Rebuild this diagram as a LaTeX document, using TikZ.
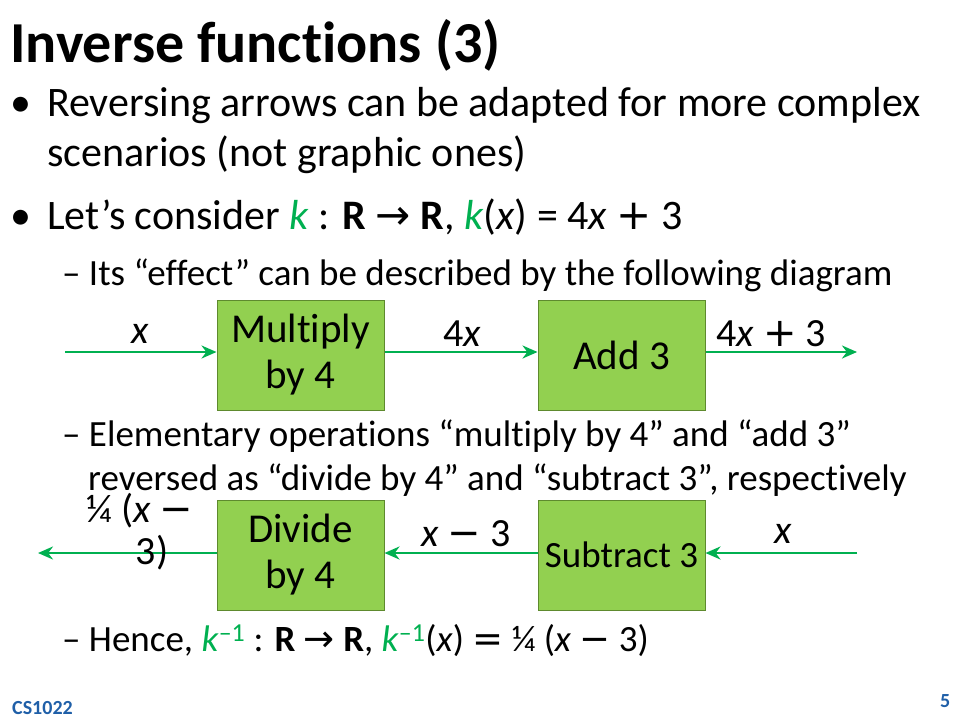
\documentclass[tikz,border=0pt]{standalone}
\usepackage{fontspec}
\setmainfont{Carlito}[Ligatures=NoCommon]
\newfontfamily\symf{DejaVu Sans}
\usetikzlibrary{arrows.meta}
\definecolor{kg}{HTML}{00B050}
\definecolor{boxg}{HTML}{92D050}
\definecolor{boxb}{HTML}{5E8A2E}
\definecolor{csb}{HTML}{1F5FA8}
\newcommand{\mysym}[1]{{\symf\fontseries{m}\selectfont #1}}
\begin{document}
\begin{tikzpicture}[x=1pt,y=-1pt,
  opbox/.style={draw=boxb,fill=boxg,line width=1pt,minimum width=167pt,minimum height=110pt,inner sep=0pt,align=center,font=\fontsize{41}{46}\selectfont},
  garrow/.style={draw=kg,line width=2.6pt,-{Stealth[length=15pt,width=13pt]}},
  tl/.style={anchor=base west,inner sep=0pt},
  lbl/.style={font=\fontsize{40}{44}\selectfont,inner sep=0pt}]
\useasboundingbox (0,0) rectangle (960,720);
\node[tl,font=\fontsize{58}{62}\bfseries] (title) at (10,62) {Inverse functions (3)};
\node[tl,font=\fontsize{42}{48}\selectfont] (b1) at (10,116) {•};
\node[tl,font=\fontsize{42}{48}\selectfont] (t1) at (47,116) {Reversing arrows can be adapted for more complex};
\node[tl,font=\fontsize{42}{48}\selectfont] (t1b) at (47,166) {scenarios (not graphic ones)};
\node[tl,font=\fontsize{42}{48}\selectfont] (b2) at (10,229) {•};
\node[tl,font=\fontsize{42}{48}\selectfont] (t2) at (47,229) {Let’s consider \textcolor{kg}{\textit{k}} : \textbf{R} \mysym{→} \textbf{R}, \textcolor{kg}{\textit{k}}(\textit{x}) = 4\textit{x} \mysym{+} 3};
\node[tl,font=\fontsize{37}{42}\selectfont] (s1) at (62,285) {– Its “effect” can be described by the following diagram};
\node[tl,font=\fontsize{37}{42}\selectfont] (s2) at (62,446) {– Elementary operations “multiply by 4” and “add 3”};
\node[tl,font=\fontsize{37}{42}\selectfont] (s2b) at (88,490) {reversed as “divide by 4” and “subtract 3”, respectively};
\node[tl,font=\fontsize{37}{42}\selectfont] (s3) at (62,651) {– Hence, \textcolor{kg}{\textit{k}\textsuperscript{–1}} : \textbf{R} \mysym{→} \textbf{R}, \textcolor{kg}{\textit{k}\textsuperscript{–1}}(\textit{x}) \mysym{=} ¼ (\textit{x} \mysym{−} 3)};
\node[tl,font=\fontsize{20}{24}\bfseries,text=csb] (cs) at (12,714) {CS1022};
\node[tl,font=\fontsize{20}{24}\bfseries,text=csb] (pg) at (940,707) {5};

\node[opbox] (m4) at (300.5,355) {Multiply\\by 4};
\node[opbox] (a3) at (621.5,355) {Add 3};
\node[opbox] (d4) at (300.5,555) {Divide\\by 4};
\node[opbox] (s3b) at (621.5,555) {\raisebox{-0.6em}{\fontsize{37}{42}\selectfont Subtract 3}};

\coordinate (inL) at (65,352);
\coordinate (outR) at (857,352);
\coordinate (inR) at (857,553);
\coordinate (outL) at (38,553);
\draw[garrow] (inL) -- (m4.west |- inL);
\draw[garrow] (m4.east |- inL) -- (a3.west |- inL);
\draw[garrow] (a3.east |- inL) -- (outR);
\draw[garrow] (inR) -- (s3b.east |- inR);
\draw[garrow] (s3b.west |- inR) -- (d4.east |- inR);
\draw[garrow] (d4.west |- inR) -- (outL);

\node[lbl] (lx) at (140,334) {\textit{x}};
\node[lbl] (l4x) at (462,334) {4\textit{x}};
\node[lbl] (l4x3) at (771,334) {4\textit{x} \mysym{+} 3};
\node[lbl] (lq1) at (140,511) {¼ (\textit{x} \mysym{−}};
\node[lbl] (lq2) at (152,553) {3)};
\node[lbl] (lxm3) at (466,534) {\textit{x} \mysym{−} 3};
\node[lbl] (lx2) at (783,534) {\textit{x}};
\end{tikzpicture}
\end{document}
